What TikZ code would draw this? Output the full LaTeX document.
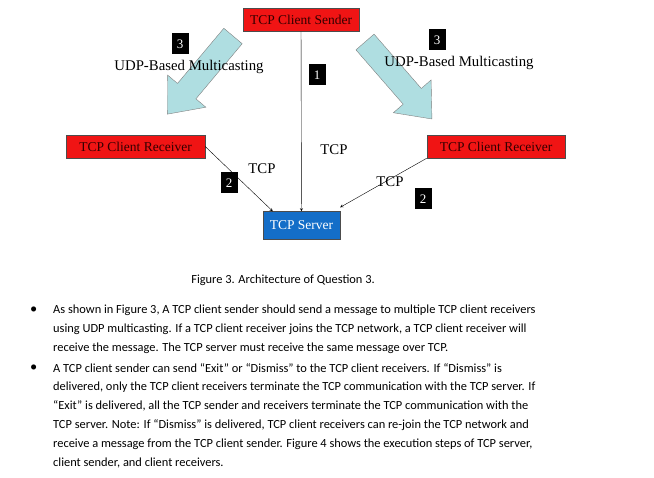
\documentclass[tikz,border=0pt]{standalone}
\usepackage{fontspec}
\setmainfont{Liberation Serif}
\newfontfamily\bodyfont{Carlito}
\definecolor{boxred}{RGB}{240,20,20}
\definecolor{srvblue}{RGB}{20,110,200}
\definecolor{arrowcyan}{RGB}{175,222,225}
\tikzset{
  host/.style={draw=black!70,fill=boxred,font=\fontsize{13.5}{13.5}\selectfont,text=black!80!red,minimum height=23pt,inner sep=1pt},
  stepno/.style={fill=black,text=white,font=\fontsize{13}{13}\selectfont,minimum width=17pt,minimum height=21pt,inner sep=0pt},
  fat/.style={draw=gray,fill=arrowcyan},
  lbl/.style={font=\fontsize{14.8}{14.8}\selectfont},
  body/.style={anchor=west,font=\bodyfont\fontsize{12.4}{13}\selectfont,inner sep=0pt}
}
\begin{document}
\begin{tikzpicture}[x=1pt,y=-1pt]
\useasboundingbox (0,0) rectangle (654,478);
% hosts
\node[host,minimum width=116pt] (snd) at (301,20) {TCP Client Sender};
\node[host,minimum width=139pt] (lrec) at (135.5,146.5) {TCP Client Receiver};
\node[host,minimum width=138pt] (rrec) at (496,146.5) {TCP Client Receiver};
\node[draw=black!70,fill=srvblue,text=white,minimum width=77pt,minimum height=28pt,font=\fontsize{13.5}{13.5}\selectfont] (srv) at (301.5,225.5) {TCP Server};
% multicast arrows
\begin{scope}[shift={(233,36)},rotate=230]
\draw[fat] (0,-12) -- (72,-12) -- (72,-25) -- (102,0) -- (72,25) -- (72,12) -- (0,12) -- cycle;
\end{scope}
\begin{scope}[shift={(365,42)},rotate=-49]
\draw[fat] (0,-12) -- (72,-12) -- (72,-25) -- (102,0) -- (72,25) -- (72,12) -- (0,12) -- cycle;
\end{scope}
\node[lbl] (ul) at (189,67) {UDP-Based Multicasting};
\node[lbl] (ur) at (459,63) {UDP-Based Multicasting};
% tcp links
\draw[-stealth] (snd) -- (srv);
\draw[-stealth] (lrec.east) -- ([xshift=10pt]srv.north west);
\draw[-stealth] (rrec.south west) -- ([yshift=4pt]srv.north east);
\node[lbl] (t1) at (334,150) {TCP};
\node[lbl] (t2) at (262,169) {TCP};
\node[lbl] (t3) at (390,182) {TCP};
% step numbers
\node[stepno] (s3l) at (180,44) {3};
\node[stepno] (s3r) at (437,40) {3};
\node[stepno] (s1) at (317,75) {1};
\node[stepno] (s2l) at (229,183) {2};
\node[stepno] (s2r) at (423,199) {2};
% caption and text
\node[font=\bodyfont\fontsize{12.4}{13}\selectfont] (cap) at (283,280) {Figure 3. Architecture of Question 3.};
\node[body] (b1) at (30,310) {\Large\textbullet};
\node[body] (b2) at (30,368) {\Large\textbullet};
\node[body] (l1) at (53,310) {As shown in Figure 3, A TCP client sender should send a message to multiple TCP client receivers};
\node[body] (l2) at (53,329) {using UDP multicasting. If a TCP client receiver joins the TCP network, a TCP client receiver will};
\node[body] (l3) at (53,348) {receive the message. The TCP server must receive the same message over TCP.};
\node[body] (l4) at (53,368) {A TCP client sender can send “Exit” or “Dismiss” to the TCP client receivers. If “Dismiss” is};
\node[body] (l5) at (53,387) {delivered, only the TCP client receivers terminate the TCP communication with the TCP server. If};
\node[body] (l6) at (53,406) {“Exit” is delivered, all the TCP sender and receivers terminate the TCP communication with the};
\node[body] (l7) at (53,425) {TCP server. Note: If “Dismiss” is delivered, TCP client receivers can re-join the TCP network and};
\node[body] (l8) at (53,444) {receive a message from the TCP client sender. Figure 4 shows the execution steps of TCP server,};
\node[body] (l9) at (53,463) {client sender, and client receivers.};
\end{tikzpicture}
\end{document}
